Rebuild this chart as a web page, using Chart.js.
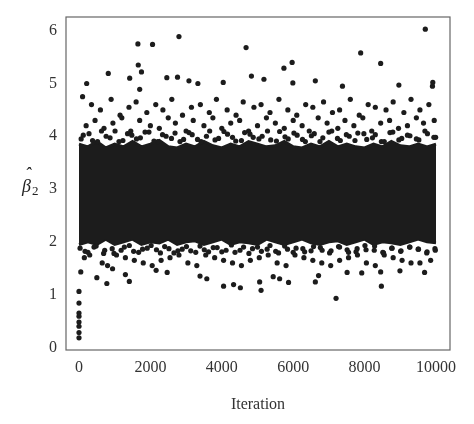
<!DOCTYPE html>
<html><head><meta charset="utf-8">
<script src="https://cdn.jsdelivr.net/npm/chart.js@4"></script>
<style>html,body{margin:0;padding:0;background:#fff}#w{width:474px;height:424px}</style>
</head><body><div id="w"><canvas id="c"></canvas></div>
<script>
const xTicks=[0,2000,4000,6000,8000,10000];
const yTicks=[0,1,2,3,4,5,6];
const bandIter=[0,250,500,750,1000,1250,1500,1750,2000,2250,2500,2750,3000,3250,3500,3750,4000,4250,4500,4750,5000,5250,5500,5750,6000,6250,6500,6750,7000,7250,7500,7750,8000,8250,8500,8750,9000,9250,9500,9750,10000];
const bandUpper=[3.85,3.8,3.9,3.78,3.85,3.8,3.9,3.8,3.85,3.92,3.8,3.78,3.85,3.8,3.9,3.82,3.78,3.85,3.8,3.9,3.85,3.8,3.82,3.9,3.8,3.78,3.85,3.8,3.9,3.8,3.85,3.8,3.78,3.85,3.8,3.9,3.82,3.8,3.85,3.8,3.85];
const bandLower=[1.95,2.0,1.95,2.05,1.95,2.0,2.05,1.95,2.0,1.98,2.05,1.95,2.0,2.02,1.95,2.0,2.05,1.95,2.0,1.98,1.95,2.05,2.0,1.95,2.0,2.05,1.98,1.95,2.0,2.02,1.95,2.0,2.05,1.95,2.0,1.98,1.95,2.0,2.05,2.0,1.98];
const ptIter=[9700,2800,1650,2060,4680,7890,8450,5970,5740,1660,1750,820,215,1420,2460,2760,3080,3330,4040,4830,5180,5990,6620,9910,9900,8960,7380,1700,
0,0,0,0,0,0,0,0,50,500,780,1410,940,1300,3390,3580,4050,4330,4520,5060,5100,5440,5620,5870,6620,6710,7200,8470,8450,9680,8990,7510,7920,2470,2160,
100,350,600,900,1150,1400,1600,1900,2150,2350,2600,2900,3150,3400,3650,3850,4150,4400,4600,4900,5100,5350,5600,5850,6100,6350,6550,6850,7100,7300,7600,7850,8100,8300,8600,8800,9100,9300,9550,9800,
200,450,700,950,1200,1450,1700,2000,2250,2500,2700,3000,3200,3500,3750,4000,4250,4500,4750,5000,5250,5500,5750,6000,6250,6450,6700,6950,7250,7450,7700,7950,8200,8450,8700,8950,9200,9450,9650,9950,
150,650,1050,1550,2050,2550,3050,3550,4050,4550,5050,5550,6050,6550,7050,7550,8050,8550,9050,9550,
300,800,1300,1800,2300,2800,3300,3800,4300,4800,5300,5800,6300,6800,7300,7800,8300,8800,9300,9850,
60,280,520,760,1010,1230,1480,1720,1960,2210,2440,2690,2930,3170,3420,3660,3910,4160,4390,4640,4880,5130,5370,5620,5860,6110,6340,6590,6830,7080,7320,7570,7810,8060,8300,8550,8790,9040,9270,9520,9760,9990,
120,380,630,870,1120,1360,1610,1850,2100,2340,2590,2830,3080,3320,3570,3810,4060,4300,4550,4790,5040,5280,5530,5770,6020,6260,6510,6750,7000,7240,7490,7730,7980,8220,8470,8710,8960,9200,9450,9690,9940,
30,250,480,720,980,1270,1530,1780,2020,2280,2520,2770,3010,3270,3510,3760,4000,4270,4510,4760,5000,5270,5510,5760,6000,6270,6500,6760,7020,7270,7510,7760,8010,8270,8510,8760,9010,9270,9500,9740,9970,
170,420,690,930,1180,1410,1670,1910,2170,2400,2660,2890,3130,3390,3630,3870,4120,4370,4610,4860,5110,5350,5590,5840,6080,6320,6570,6810,7060,7300,7550,7790,8040,8280,8530,8770,9020,9260,9510,9750,9980];
const ptVal=[6.03,5.89,5.75,5.74,5.68,5.58,5.38,5.40,5.29,5.35,5.22,5.19,5.00,5.10,5.11,5.12,5.05,5.00,5.02,5.14,5.08,5.01,5.05,5.02,4.95,4.97,4.95,4.89,
1.06,0.84,0.65,0.59,0.48,0.40,0.28,0.18,1.43,1.32,1.21,1.25,1.49,1.38,1.35,1.30,1.16,1.19,1.13,1.24,1.08,1.34,1.30,1.23,1.24,1.36,0.93,1.16,1.43,1.42,1.45,1.42,1.41,1.42,1.46,
4.75,4.6,4.5,4.7,4.4,4.55,4.65,4.45,4.6,4.5,4.7,4.4,4.55,4.6,4.45,4.7,4.5,4.4,4.65,4.55,4.6,4.45,4.7,4.5,4.4,4.6,4.55,4.65,4.45,4.5,4.7,4.4,4.6,4.55,4.5,4.65,4.45,4.7,4.5,4.6,
4.2,4.3,4.15,4.25,4.35,4.1,4.3,4.2,4.15,4.35,4.25,4.1,4.3,4.2,4.35,4.15,4.25,4.3,4.1,4.2,4.35,4.25,4.15,4.3,4.2,4.1,4.35,4.25,4.15,4.3,4.2,4.35,4.1,4.25,4.3,4.15,4.2,4.35,4.25,4.3,
1.7,1.6,1.75,1.65,1.55,1.7,1.6,1.75,1.65,1.55,1.7,1.6,1.75,1.65,1.55,1.7,1.6,1.75,1.65,1.6,
1.75,1.55,1.7,1.6,1.65,1.75,1.55,1.7,1.6,1.65,1.75,1.55,1.7,1.6,1.65,1.75,1.55,1.7,1.6,1.65,
3.95,4.05,3.9,4.0,4.1,3.92,4.02,3.97,4.08,3.9,4.0,4.06,3.94,4.03,3.9,4.1,3.96,4.04,3.91,4.07,3.98,4.0,3.93,4.09,3.95,4.02,3.9,4.05,3.97,4.1,3.92,4.0,4.06,3.94,4.03,3.9,4.08,3.96,4.01,3.93,4.05,3.98,
4.02,3.92,4.1,3.97,3.9,4.05,3.95,4.08,3.91,4.03,3.96,3.9,4.07,3.94,4.0,3.93,4.09,3.98,3.92,4.04,3.95,4.1,3.91,3.99,4.06,3.94,4.01,3.9,4.08,3.96,4.03,3.92,4.05,3.97,3.9,4.07,3.93,4.02,3.95,4.1,3.98,
1.88,1.8,1.92,1.84,1.78,1.9,1.82,1.86,1.93,1.79,1.87,1.83,1.91,1.8,1.85,1.89,1.81,1.94,1.84,1.78,1.9,1.86,1.82,1.92,1.8,1.87,1.83,1.89,1.79,1.91,1.85,1.81,1.93,1.84,1.8,1.88,1.82,1.9,1.86,1.79,1.87,
1.82,1.9,1.78,1.87,1.84,1.93,1.8,1.88,1.85,1.91,1.79,1.86,1.83,1.92,1.81,1.89,1.84,1.8,1.9,1.87,1.82,1.93,1.79,1.86,1.88,1.81,1.91,1.84,1.83,1.9,1.8,1.87,1.85,1.92,1.79,1.88,1.83,1.9,1.86,1.81,1.84];
const ink='#1c1c1c';
const band=(arr)=>bandIter.map((x,i)=>({x,y:arr[i]}));
const frame={id:'frame',afterDraw(ch){const a=ch.chartArea,c=ch.ctx;c.save();c.strokeStyle='#666';c.lineWidth=1.2;c.strokeRect(a.left,a.top,a.right-a.left,a.bottom-a.top);
c.fillStyle='#222';c.textBaseline='alphabetic';c.font='italic 18px "Liberation Serif",serif';c.fillText('\u03B2',22,192);c.fillText('\u02C6',25,180);c.font='13px "Liberation Serif",serif';c.fillText('2',32,195);c.restore();}};
new Chart(document.getElementById('c'),{
type:'scatter',
data:{datasets:[
{data:ptIter.map((x,i)=>({x,y:ptVal[i]})),backgroundColor:ink,borderColor:ink,pointRadius:2.6,borderWidth:0,order:0},
{type:'line',data:band(bandUpper),borderColor:ink,borderWidth:3,pointRadius:0,fill:'+1',backgroundColor:ink,tension:0,order:1},
{type:'line',data:band(bandLower),borderColor:ink,borderWidth:3,pointRadius:0,fill:false,tension:0,order:1}
]},
plugins:[frame],
options:{responsive:true,maintainAspectRatio:false,animation:false,
layout:{padding:{left:0,right:24,top:17,bottom:6}},
plugins:{legend:{display:false},tooltip:{enabled:false}},
scales:{
x:{type:'linear',min:-364,max:10392,afterBuildTicks:s=>{s.ticks=xTicks.map(v=>({value:v}))},
afterFit:s=>{s.height=68},
grid:{display:false,drawTicks:true,tickLength:6,tickColor:'#666'},border:{display:false},
ticks:{color:'#333',font:{family:'"Liberation Serif",serif',size:16},padding:2,maxRotation:0,callback:v=>String(v)},
title:{display:true,text:'Iteration',color:'#333',font:{family:'"Liberation Serif",serif',size:16},padding:{top:0}}},
y:{min:-0.05,max:6.26,afterBuildTicks:s=>{s.ticks=yTicks.map(v=>({value:v}))},
afterFit:s=>{s.width=66},
grid:{display:false,drawTicks:true,tickLength:6,tickColor:'#666'},border:{display:false},
ticks:{color:'#333',font:{family:'"Liberation Serif",serif',size:16},padding:3,callback:v=>String(v)}}
}}});
</script></body></html>
